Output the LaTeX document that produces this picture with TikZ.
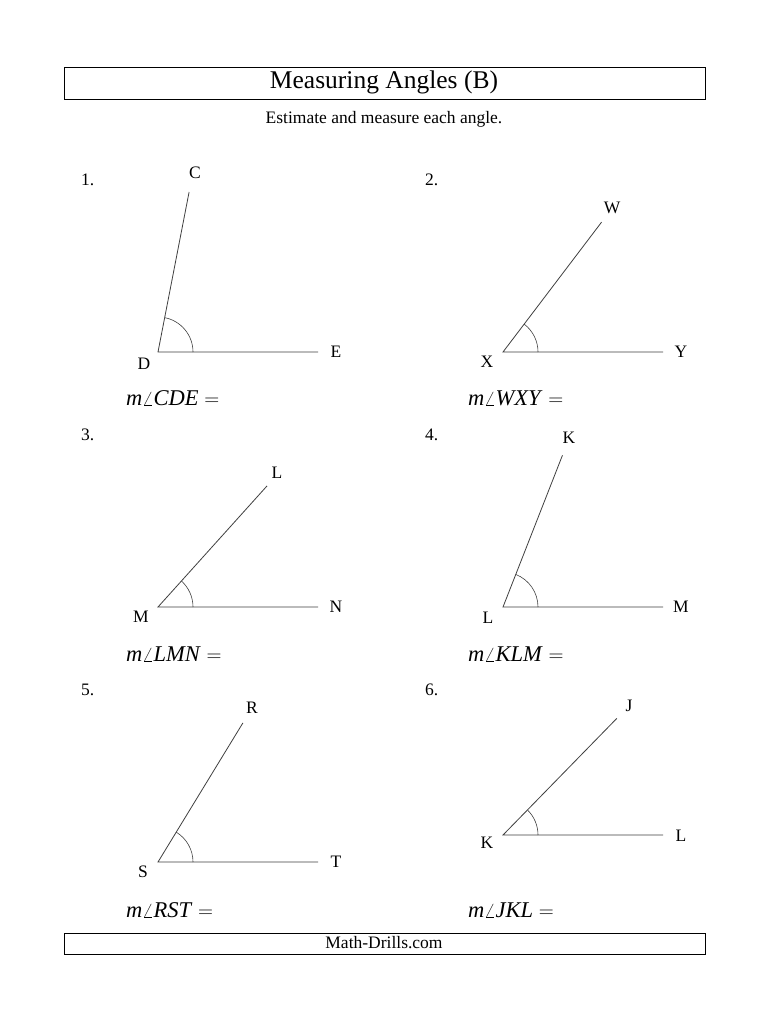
\documentclass[tikz,border=0pt]{standalone}
\usepackage{fontspec}
\setmainfont{Liberation Serif}
\usetikzlibrary{calc}
\begin{document}
\begin{tikzpicture}[x=1pt,y=-1pt,
  ray/.style={draw=black!75,line width=0.8pt},
  anglearc/.style={draw=black!75,line width=0.6pt},
  lbl/.style={inner sep=0pt,font=\fontsize{17.5}{20}\selectfont},
  num/.style={inner sep=0pt,anchor=west,font=\fontsize{17.5}{20}\selectfont},
  meas/.style={inner sep=0pt,anchor=west,font=\fontsize{22.5}{25}\selectfont},
  frame/.style={draw=black,line width=0.9pt}]
\useasboundingbox (0,0) rectangle (768,1024);
\fill[white] (0,0) rectangle (768,1024);
% header
\node[frame,minimum width=641pt,minimum height=32pt,inner sep=0pt] (hdr) at (384.5,83) {};
\node[inner sep=0pt,font=\fontsize{25.5}{28}\selectfont] (title) at (384,82) {Measuring Angles (B)};
\node[lbl] (sub) at (384,119) {Estimate and measure each angle.};
% footer
\node[frame,minimum width=641pt,minimum height=21pt,inner sep=0pt] (ftr) at (384.5,943.5) {};
\node[lbl] (ftrtxt) at (384,943) {Math-Drills.com};

% Problem 1
\node[num] (n1) at (81,180) {1.};
\coordinate (D) at (158,352);
\coordinate (C) at ($(D)+(79:163pt)$);
\coordinate (E) at (318,352);
\draw[ray] (C) -- (D) -- (E);
\draw[anglearc] ($(D)+(35pt,0pt)$) arc[start angle=0,end angle=79,radius=35pt];
\node[lbl] (lC) at (195,173) {C};
\node[lbl] (lD) at (144,364) {D};
\node[lbl] (lE) at (336,352) {E};
\node[meas] (m1) at (126,398) {\textit{m}$\angle$\textit{CDE} $=$};

% Problem 2
\node[num] (n2) at (425,180) {2.};
\coordinate (X) at (503,352);
\coordinate (W) at ($(X)+(52.8:163pt)$);
\coordinate (Y) at (663,352);
\draw[ray] (W) -- (X) -- (Y);
\draw[anglearc] ($(X)+(35pt,0pt)$) arc[start angle=0,end angle=52.8,radius=35pt];
\node[lbl] (lW) at (612,208) {W};
\node[lbl] (lX) at (487,362) {X};
\node[lbl] (lY) at (681,352) {Y};
\node[meas] (m2) at (468,398) {\textit{m}$\angle$\textit{WXY} $=$};

% Problem 3
\node[num] (n3) at (81,435) {3.};
\coordinate (M3) at (158,607);
\coordinate (L3) at ($(M3)+(48:163pt)$);
\coordinate (N3) at (318,607);
\draw[ray] (L3) -- (M3) -- (N3);
\draw[anglearc] ($(M3)+(35pt,0pt)$) arc[start angle=0,end angle=48,radius=35pt];
\node[lbl] (lL3) at (277,473) {L};
\node[lbl] (lM3) at (141,617) {M};
\node[lbl] (lN3) at (336,607) {N};
\node[meas] (m3) at (126,654) {\textit{m}$\angle$\textit{LMN} $=$};

% Problem 4
\node[num] (n4) at (425,435) {4.};
\coordinate (L4) at (503,607);
\coordinate (K4) at ($(L4)+(68.6:163pt)$);
\coordinate (M4) at (663,607);
\draw[ray] (K4) -- (L4) -- (M4);
\draw[anglearc] ($(L4)+(35pt,0pt)$) arc[start angle=0,end angle=68.6,radius=35pt];
\node[lbl] (lK4) at (569,438) {K};
\node[lbl] (lL4) at (488,618) {L};
\node[lbl] (lM4) at (681,607) {M};
\node[meas] (m4) at (468,654) {\textit{m}$\angle$\textit{KLM} $=$};

% Problem 5
\node[num] (n5) at (81,690) {5.};
\coordinate (S) at (158,862);
\coordinate (R) at ($(S)+(58.6:163pt)$);
\coordinate (T) at (318,862);
\draw[ray] (R) -- (S) -- (T);
\draw[anglearc] ($(S)+(35pt,0pt)$) arc[start angle=0,end angle=58.6,radius=35pt];
\node[lbl] (lR) at (252,708) {R};
\node[lbl] (lS) at (143,872) {S};
\node[lbl] (lT) at (336,862) {T};
\node[meas] (m5) at (126,910) {\textit{m}$\angle$\textit{RST} $=$};

% Problem 6
\node[num] (n6) at (425,690) {6.};
\coordinate (K6) at (503,835);
\coordinate (J6) at ($(K6)+(45.7:163pt)$);
\coordinate (L6) at (663,835);
\draw[ray] (J6) -- (K6) -- (L6);
\draw[anglearc] ($(K6)+(35pt,0pt)$) arc[start angle=0,end angle=45.7,radius=35pt];
\node[lbl] (lJ6) at (629,706) {J};
\node[lbl] (lK6) at (487,843) {K};
\node[lbl] (lL6) at (681,836) {L};
\node[meas] (m6) at (468,910) {\textit{m}$\angle$\textit{JKL} $=$};
\end{tikzpicture}
\end{document}
